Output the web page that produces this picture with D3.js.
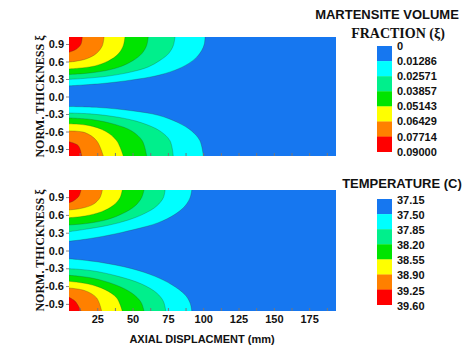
<!DOCTYPE html>
<html><head><meta charset="utf-8">
<script src="https://cdn.jsdelivr.net/npm/d3@7"></script>
<style>
html,body{margin:0;padding:0;background:#fff;}
svg{display:block;}
</style></head>
<body>
<svg id="chart" width="474" height="349"></svg>
<script>
// ---------- DATA ----------
const fracLevels = ["0","0.01286","0.02571","0.03857","0.05143","0.06429","0.07714","0.09000"];
const tempLevels = ["37.15","37.50","37.85","38.20","38.55","38.90","39.25","39.60"];
const xTicks = [25,50,75,100,125,150,175];
const xMinorTicks = [12.5,25,37.5,50,62.5,75,87.5,100,112.5,125,137.5,150,162.5,175,187.5];
const yTicks = [0.9,0.6,0.3,0.0,-0.3,-0.6,-0.9];
const yTickLabels = ["0.9","0.6","0.3","0.0","-0.3","-0.6","-0.9"];

// contour boundaries [axial displacement (mm), norm. thickness]
// index 0 = outer (cyan) boundary ... index 5 = red boundary
const fracUpper = [
  [[101.3,1.02],[100.8,0.899],[98.9,0.787],[95.4,0.675],[89.5,0.563],[80,0.451],[65.9,0.35],[49.4,0.283],[30.5,0.227],[5,0.182]],
  [[80,1.02],[78.8,0.871],[75.3,0.731],[69.4,0.619],[61.1,0.507],[49.4,0.423],[32.8,0.35],[16.3,0.311],[5,0.294]],
  [[61.1,1.02],[59.9,0.871],[56.4,0.731],[50.5,0.619],[42.3,0.519],[30.5,0.441],[16.3,0.395],[5,0.378]],
  [[44.6,1.02],[43.4,0.871],[39.9,0.731],[32.8,0.608],[23.4,0.524],[11.6,0.485],[5,0.473]],
  [[29.8,1.02],[28.6,0.871],[24.6,0.742],[17.5,0.647],[9.2,0.602],[5,0.591]],
  [[14.4,1.02],[13.5,0.899],[10.4,0.815],[5,0.759]]
];
const fracLower = [
  [[5,-0.171],[25.8,-0.188],[49.4,-0.244],[68.2,-0.322],[82.4,-0.451],[91.8,-0.591],[97.7,-0.759],[100.1,-1.02]],
  [[5,-0.283],[21.1,-0.3],[39.9,-0.356],[56.4,-0.451],[69.4,-0.591],[76.5,-0.759],[78.8,-1.02]],
  [[5,-0.367],[21.1,-0.395],[37.6,-0.479],[49.4,-0.591],[56.9,-0.759],[60,-1.02]],
  [[5,-0.468],[18.7,-0.496],[30.5,-0.591],[38.8,-0.759],[43.4,-1.02]],
  [[5,-0.591],[16.3,-0.619],[24.6,-0.759],[29.3,-1.02]],
  [[5,-0.776],[11.6,-0.843],[14.0,-1.02]]
];
const tempUpper = [
  [[91.9,1.02],[90.7,0.891],[87.1,0.75],[80.0,0.61],[68.2,0.469],[51.7,0.357],[32.8,0.256],[16.3,0.189],[5,0.155]],
  [[73,1.02],[71.8,0.891],[67.1,0.75],[58.8,0.627],[47.0,0.514],[32.8,0.425],[16.3,0.357],[5,0.317]],
  [[58.1,1.02],[56.4,0.891],[51.7,0.75],[43.4,0.627],[32.8,0.526],[18.7,0.459],[5,0.43]],
  [[42.7,1.02],[41.1,0.891],[36.4,0.762],[28.1,0.655],[16.3,0.582],[5,0.553]],
  [[28.6,1.02],[26.9,0.891],[22.2,0.779],[14,0.712],[5,0.683]],
  [[13.5,1.02],[12.1,0.919],[8.1,0.835],[5,0.806]]
];
const tempLower = [
  [[5,-0.138],[25.8,-0.194],[49.4,-0.306],[65.9,-0.436],[77.7,-0.576],[87.1,-0.745],[90.7,-0.885],[91.9,-1.02]],
  [[5,-0.306],[21.1,-0.34],[39.9,-0.436],[56.4,-0.565],[67.1,-0.717],[71.8,-0.857],[73.5,-1.02]],
  [[5,-0.418],[21.1,-0.464],[37.6,-0.576],[49.4,-0.717],[55.9,-0.869],[58.1,-1.02]],
  [[5,-0.52],[18.7,-0.565],[30.5,-0.66],[38.8,-0.8],[42.7,-1.02]],
  [[5,-0.632],[16.3,-0.677],[24.6,-0.8],[28.1,-1.02]],
  [[5,-0.79],[9.4,-0.857],[13.5,-1.02]]
];

// ---------- STYLE ----------
const palette = ["#1677f0","#00ffff","#00ef8c","#00e400","#ffff00","#ff8000","#ff0000"];
const SANS = "'Liberation Sans', Arial, sans-serif";
const SERIF = "'Liberation Serif', 'Times New Roman', serif";

const svg = d3.select("#chart");
const x = d3.scaleLinear().domain([5,194]).range([69,336]);

function drawPanel(id, top, bottom, upper, lower, showXLabels) {
  const y = d3.scaleLinear().domain([-1.02,1.02]).range([bottom, top]);
  const g = svg.append("g");
  g.append("clipPath").attr("id", id).append("rect")
    .attr("x", x.range()[0]).attr("y", top)
    .attr("width", x.range()[1]-x.range()[0]).attr("height", bottom-top);
  const body = g.append("g").attr("clip-path", `url(#${id})`);
  body.append("rect").attr("x", x.range()[0]).attr("y", top)
    .attr("width", x.range()[1]-x.range()[0]).attr("height", bottom-top)
    .attr("fill", palette[0]);
  const line = d3.line().x(d => x(d[0])).y(d => y(d[1])).curve(d3.curveCatmullRom.alpha(0.5));
  upper.forEach((curve, i) => {
    const p = line(curve) + `L${x(5)-2},${y(curve[curve.length-1][1])}L${x(5)-2},${y(1.02)-2}L${x(curve[0][0])},${y(1.02)-2}Z`;
    body.append("path").attr("d", p).attr("fill", palette[i+1])
      .attr("stroke", "rgba(40,60,40,0.45)").attr("stroke-width", 0.6);
  });
  lower.forEach((curve, i) => {
    const last = curve[curve.length-1];
    const p = line(curve) + `L${x(last[0])},${y(-1.02)+2}L${x(5)-2},${y(-1.02)+2}L${x(5)-2},${y(curve[0][1])}Z`;
    body.append("path").attr("d", p).attr("fill", palette[i+1])
      .attr("stroke", "rgba(40,60,40,0.45)").attr("stroke-width", 0.6);
  });

  // y axis
  const ya = g.append("g").attr("transform", `translate(${x.range()[0]},0)`)
    .call(d3.axisLeft(y).tickValues(yTicks).tickSize(3).tickPadding(2)
      .tickFormat((d,i) => yTickLabels[i]));
  ya.select(".domain").remove();
  ya.selectAll("line").attr("stroke", "#888");
  ya.selectAll("text").attr("font-family", SANS).attr("font-weight", "bold")
    .attr("font-size", 11).attr("fill", "#111");

  // x axis
  const xa = g.append("g").attr("transform", `translate(0,${bottom})`)
    .call(d3.axisBottom(x).tickValues(xMinorTicks).tickSizeInner(-3).tickSizeOuter(0)
      .tickFormat(d => (showXLabels && xTicks.includes(d)) ? d : ""));
  xa.select(".domain").remove();
  xa.selectAll("line").attr("stroke", "#777");
  xa.selectAll("text").attr("font-family", SANS).attr("font-weight", "bold")
    .attr("font-size", 11).attr("fill", "#111").attr("dy", "0.55em").attr("y", 6);

  // y title
  g.append("text").attr("transform", `translate(44,${(top+bottom)/2}) rotate(-90)`)
    .attr("text-anchor", "middle").attr("font-family", SERIF).attr("font-weight", "bold")
    .attr("font-size", 12).attr("fill", "#111").text("NORM. THICKNESS ξ");
}

function drawLegend(labels, boxTop, labelOffset) {
  const ly = d3.scaleLinear().domain([0, labels.length-1]).range([boxTop, boxTop + 15.1*(labels.length-1)]);
  const g = svg.append("g");
  d3.range(labels.length-1).forEach(i => {
    g.append("rect").attr("x", 377).attr("y", ly(i)).attr("width", 15)
      .attr("height", ly(i+1)-ly(i)+0.3).attr("fill", palette[i]);
  });
  labels.forEach((t, i) => {
    g.append("text").attr("x", 397).attr("y", ly(i) + labelOffset)
      .attr("dominant-baseline", "middle").attr("font-family", SANS)
      .attr("font-weight", "bold").attr("font-size", 11).attr("fill", "#111").text(t);
  });
}

drawPanel("clipTop", 37, 156, fracUpper, fracLower, false);
drawPanel("clipBot", 190, 311, tempUpper, tempLower, true);

drawLegend(fracLevels, 46, 1);
drawLegend(tempLevels, 199, 2);

svg.append("text").attr("x", 387).attr("y", 19.3).attr("text-anchor", "middle")
  .attr("font-family", SANS).attr("font-weight", "bold").attr("font-size", 13)
  .attr("fill", "#111").text("MARTENSITE VOLUME");
svg.append("text").attr("x", 398).attr("y", 37.7).attr("text-anchor", "middle")
  .attr("font-family", SERIF).attr("font-weight", "bold").attr("font-size", 14)
  .attr("fill", "#111").text("FRACTION (ξ)");
svg.append("text").attr("x", 402).attr("y", 188.3).attr("text-anchor", "middle")
  .attr("font-family", SANS).attr("font-weight", "bold").attr("font-size", 13)
  .attr("fill", "#111").text("TEMPERATURE (C)");
svg.append("text").attr("x", 202).attr("y", 342.7).attr("text-anchor", "middle")
  .attr("font-family", SANS).attr("font-weight", "bold").attr("font-size", 11)
  .attr("fill", "#111").text("AXIAL DISPLACMENT (mm)");
</script>
</body></html>
